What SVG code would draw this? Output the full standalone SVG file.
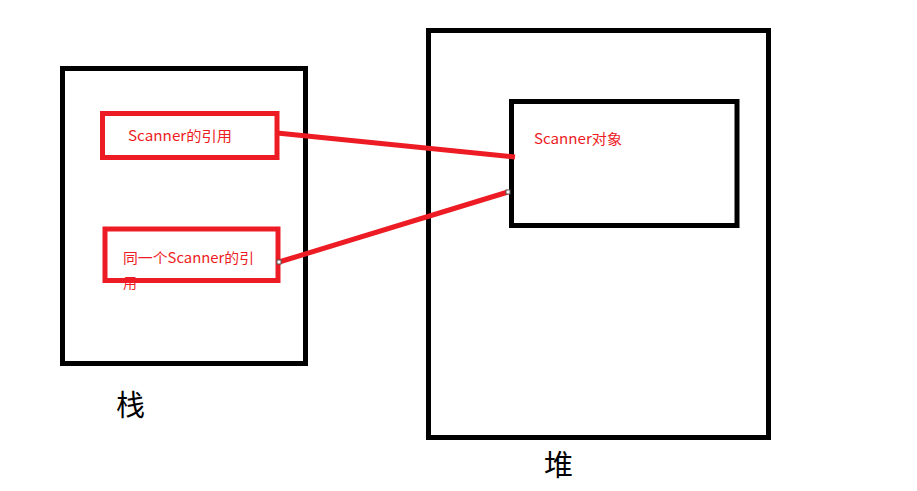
<svg xmlns="http://www.w3.org/2000/svg" width="917" height="491" viewBox="0 0 917 491">
<style>
.blk{fill:none;stroke:#000;stroke-width:5}
.red{fill:none;stroke:#ED1C24;stroke-width:5}
.lbl{fill:#ED1C24;font-family:"Noto Sans CJK SC","Noto Sans",sans-serif;font-size:14px}
.big{fill:#000;font-family:"Noto Sans CJK SC",sans-serif;font-size:29px}
.conn{stroke:#ED1C24;stroke-width:5;fill:none}
.hdl{fill:#fff;stroke:#555;stroke-width:1}
</style>
<rect width="917" height="491" fill="#fff"/>
<g id="stack">
<rect class="blk" x="62.5" y="68.5" width="243" height="295"/>
<text class="big" x="116" y="416">栈</text>
</g>
<g id="heap">
<rect class="blk" x="428.5" y="30.5" width="340" height="407"/>
<text class="big" x="544" y="476">堆</text>
</g>
<g id="ref1">
<rect class="red" x="102.5" y="113.5" width="174.5" height="44"/>
<text class="lbl" x="128" y="141" textLength="104" lengthAdjust="spacingAndGlyphs">Scanner的引用</text>
</g>
<g id="ref2">
<text class="lbl" x="123" y="263" textLength="131" lengthAdjust="spacingAndGlyphs">同一个Scanner的引</text>
<text class="lbl" x="123" y="288">用</text>
<rect class="red" x="105" y="229" width="173" height="51.5"/>
</g>
<g id="obj">
<rect class="blk" x="511.5" y="101.5" width="225.5" height="124"/>
<text class="lbl" x="534" y="144" textLength="88" lengthAdjust="spacingAndGlyphs">Scanner对象</text>
</g>
<g id="connectors">
<line class="conn" x1="277" y1="133" x2="515" y2="157"/>
<line class="conn" x1="279" y1="262" x2="508" y2="192"/>
<rect class="hdl" x="277" y="260" width="4" height="4"/>
<rect class="hdl" x="506" y="190" width="4" height="4"/>
</g>
</svg>
